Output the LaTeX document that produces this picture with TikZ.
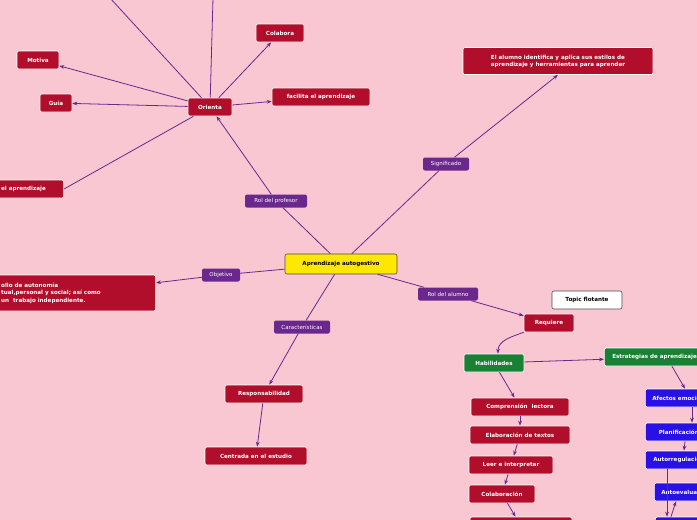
\documentclass[tikz,border=0pt]{standalone}
\usepackage{fontspec}
\setmainfont{DejaVu Sans}
\usetikzlibrary{arrows.meta}
\definecolor{bg}{RGB}{248,199,209}
\definecolor{crim}{RGB}{176,14,42}
\definecolor{pur}{RGB}{106,40,140}
\definecolor{grn}{RGB}{26,128,52}
\definecolor{blu}{RGB}{40,16,230}
\begin{document}
\begin{tikzpicture}[x=1pt,y=-1pt,
  base/.style={rounded corners=2pt,font=\bfseries\fontsize{5.6}{7}\selectfont,text=white,inner sep=0pt,minimum height=18pt,draw=white,line width=0.6pt},
  rbox/.style={base,fill=crim},
  gbox/.style={base,fill=grn},
  bbox/.style={base,fill=blu},
  lab/.style={rounded corners=2pt,fill=pur,text=white,font=\fontsize{5.5}{6}\selectfont,inner sep=0pt,minimum height=13pt},
  ln/.style={pur,line width=0.8pt},
  ar/.style={ln,-{Stealth[length=5pt]}}]
\useasboundingbox[fill=bg] (0,0) rectangle (697,520);
\clip (0,0) rectangle (697,520);
\node[base,fill=yellow!90!orange,text=black,draw=black!70,minimum width=112pt,minimum height=20pt] (c) at (341,264) {Aprendizaje autogestivo};
\node[lab,minimum width=62pt] (rp) at (276,201) {Rol del profesor};
\node[rbox,minimum width=44pt] (or) at (210,107) {Orienta};
\node[rbox,minimum width=48pt] (co) at (280,33) {Colabora};
\node[rbox,minimum width=42pt] (mo) at (38,60) {Motiva};
\node[rbox,minimum width=32pt] (gu) at (56,103) {Guía};
\node[rbox,minimum width=98pt] (fa) at (321,97) {facilita el aprendizaje};
\node[rbox,minimum width=80pt,anchor=east] (ea) at (64,189) {};
\node[anchor=west,text=white,font=\bfseries\fontsize{5.6}{7}\selectfont,inner sep=0pt] (eat) at (1,189) {el aprendizaje};
\coordinate (u1) at (110,-2); \coordinate (u2) at (213,-2);
\node[lab,minimum width=46pt] (si) at (446,164) {Significado};
\node[rbox,minimum width=190pt,minimum height=27pt,align=left] (al) at (558,61) {El alumno identifica y aplica sus estilos de\\aprendizaje y herramientas para aprender};
\node[lab,minimum width=38pt] (ob) at (221,275) {Objetivo};
\node[rbox,minimum width=170pt,minimum height=36pt,anchor=east] (de) at (156,293) {};
\node[anchor=west,align=left,text=white,font=\bfseries\fontsize{5.6}{7.5}\selectfont,inner sep=0pt] (det) at (1,293) {ollo de autonomía\\tual,personal y social; así como\\un\ \ trabajo independiente.};
\node[lab,minimum width=56pt] (ca) at (302,327) {Características};
\node[rbox,minimum width=78pt] (re) at (264,394) {Responsabilidad};
\node[rbox,minimum width=102pt] (ce) at (256,456) {Centrada en el estudio};
\node[lab,minimum width=60pt] (ra) at (448,294) {Rol del alumno};
\node[rbox,minimum width=50pt] (rq) at (549,323) {Requiere};
\node[base,fill=white,text=black,draw=black!70,minimum width=70pt] (tf) at (587,300) {Topic flotante};
\node[gbox,minimum width=60pt] (ha) at (494,363) {Habilidades};
\node[gbox,minimum width=110pt,anchor=west,align=left] (es) at (604,357) {\hspace*{8pt}Estrategias de aprendizaje\hspace*{40pt}};
\node[rbox,minimum width=98pt] (h1) at (520,407) {Comprensión\ \ lectora};
\node[rbox,minimum width=100pt] (h2) at (520,435) {Elaboración de textos};
\node[rbox,minimum width=84pt] (h3) at (511,465) {Leer e interpretar};
\node[rbox,minimum width=66pt] (h4) at (502,494) {Colaboración};
\node[rbox,minimum width=102pt] (h5) at (521,526) {};
\node[bbox,minimum width=80pt,anchor=west,align=left] (b1) at (645,398) {\hspace*{7pt}Afectos emocionales\hspace*{20pt}};
\node[bbox,minimum width=80pt,anchor=west,align=left] (b2) at (645,432) {\hspace*{7pt}Planificación\hspace*{20pt}};
\node[bbox,minimum width=80pt,anchor=west,align=left] (b3) at (645,460) {\hspace*{7pt}Autorregulación\hspace*{20pt}};
\node[bbox,minimum width=70pt,anchor=west,align=left] (b4) at (654,492) {\hspace*{7pt}Autoevaluación\hspace*{20pt}};
\node[bbox,minimum width=80pt,anchor=west] (b5) at (655,526) {};
\draw[ln] (c) -- (rp); \draw[ar] (rp) -- (or);
\draw[ar] (or) -- (co); \draw[ar] (or) -- (mo); \draw[ar] (or) -- (gu); \draw[ar] (or) -- (fa); \draw[ln] (or) -- (ea.east);
\draw[ln] (or) -- (u1); \draw[ln] (or) -- (u2);
\draw[ln] (c) -- (si); \draw[ar] (si) -- (al.south);
\draw[ln] (c) -- (ob); \draw[ar] (ob) -- (de);
\draw[ln] (c) -- (ca); \draw[ar] (ca) -- (re); \draw[ar] (re) -- (ce);
\draw[ln] (c) -- (ra); \draw[ar] (ra) -- (rq);
\draw[ar] (rq.south west) to[out=200,in=90] ([xshift=4pt]ha.north);
\draw[ar] (ha) -- (es);
\draw[ar] (ha) -- (h1); \draw[ar] (h1) -- (h2); \draw[ar] (h2) -- (h3); \draw[ar] (h3) -- (h4); \draw[ar] (h4) -- (h5);
\draw[ar] ([xshift=68pt]es.south west) -- ([xshift=40pt]b1.north west);
\draw[ar] ([xshift=47pt]b1.south west) -- ([xshift=47pt]b2.north west);
\draw[ar] ([xshift=40pt]b2.south west) -- ([xshift=39pt]b3.north west);
\draw[ar] ([xshift=22pt]b3.south west) -- ([xshift=12pt]b5.north west);
\draw[ar] ([xshift=16pt]b5.north west) -- ([xshift=22pt]b4.south west);
\end{tikzpicture}
\end{document}
